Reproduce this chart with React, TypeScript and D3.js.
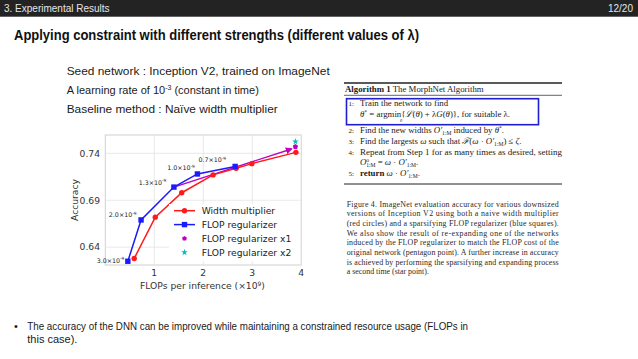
import * as d3 from 'd3'

// FLOPs (x10^9) and accuracy
const widthFlops = [0.59, 1.02, 1.56, 2.2, 2.67, 2.99, 3.89]
const widthAcc = [0.628, 0.672, 0.698, 0.717, 0.724, 0.729, 0.741]
const regFlops = [0.46, 0.73, 1.4, 1.88, 2.65]
const regAcc = [0.625, 0.669, 0.704, 0.718, 0.726]
const lambdaLabels = ['3.0', '2.0', '1.3', '1.0', '0.7']
const expandX1 = { flops: 3.88, acc: 0.747 }
const expandX2 = { flops: 3.88, acc: 0.7525 }
const arrowFrom = { flops: 1.4, acc: 0.704 }
const arrowTo = { flops: 3.8, acc: 0.7446 }
const xTicks = [1, 2, 3, 4]
const yTicks = [0.64, 0.69, 0.74]
const legendNames = ['Width multiplier', 'FLOP regularizer', 'FLOP regularizer x1', 'FLOP regularizer x2']

const captionLines = [
  'Figure 4. ImageNet evaluation accuracy for various downsized',
  'versions of Inception V2 using both a naive width multiplier',
  '(red circles) and a sparsifying FLOP regularizer (blue squares).',
  'We also show the result of re-expanding one of the networks',
  'induced by the FLOP regularizer to match the FLOP cost of the',
  'original network (pentagon point). A further increase in accuracy',
  'is achieved by performing the sparsifying and expanding process',
  'a second time (star point).',
]

const RED = '#ff1a1a'
const BLUE = '#1a1aff'
const PURPLE = '#bf00bf'
const CYAN = '#00bfbf'

const pentagon = (cx: number, cy: number, r: number) =>
  d3.range(5).map((i) => {
    const a = -Math.PI / 2 + (i * 2 * Math.PI) / 5
    return [cx + r * Math.cos(a), cy + r * Math.sin(a)].join(',')
  }).join(' ')

const Chart = () => {
  const x = d3.scaleLinear().domain([0, 4]).range([105.3, 301.3])
  const y = d3.scaleLinear().domain([0.621, 0.7595]).range([265, 135])
  const line = d3.line<[number, number]>().x((d) => x(d[0])).y((d) => y(d[1]))
  const widthPts = widthFlops.map((f, i) => [f, widthAcc[i]] as [number, number])
  const regPts = regFlops.map((f, i) => [f, regAcc[i]] as [number, number])
  const star = d3.symbol(d3.symbolStar, 14)()
  const labelOffsets = [[-3.5, 1.5], [-4.5, -3], [-7.5, -2.5], [-2.5, -3.5], [-9, -4.5]]
  const legendY = (i: number) => 210.7 + i * 13.9
  const font = 'DejaVu Sans'
  return (
    <g fontFamily={font}>
      <rect x={x(0)} y={y(0.7595)} width={x(4) - x(0)} height={y(0.621) - y(0.7595)} fill="#fff" stroke="#d0d0d0" strokeWidth={1} />
      {xTicks.map((t) => (
        <line key={'gx' + t} x1={x(t)} x2={x(t)} y1={y(0.621)} y2={y(0.7595)} stroke="#e3e3e3" strokeWidth={0.8} />
      ))}
      {yTicks.map((t) => (
        <line key={'gy' + t} x1={x(0)} x2={x(4)} y1={y(t)} y2={y(t)} stroke="#e3e3e3" strokeWidth={0.8} />
      ))}
      {xTicks.map((t) => (
        <text key={'tx' + t} x={x(t)} y={276} fontSize={9.2} textAnchor="middle" fill="#333">{t}</text>
      ))}
      {yTicks.map((t) => (
        <text key={'ty' + t} x={100} y={y(t) + 3.3} fontSize={9.2} textAnchor="end" fill="#333">{t.toFixed(2)}</text>
      ))}
      <text x={202.5} y={289} fontSize={9.2} textAnchor="middle" fill="#333">
        FLOPs per inference (×10<tspan fontSize={6} dy={-3.5}>9</tspan><tspan dy={3.5}>)</tspan>
      </text>
      <text transform="translate(78.3,200) rotate(-90)" fontSize={9.2} textAnchor="middle" fill="#333">Accuracy</text>

      <defs>
        <marker id="arrowP" viewBox="0 0 10 10" refX={8} refY={5} markerWidth={5} markerHeight={5} orient="auto">
          <path d="M0,0 L10,5 L0,10 z" fill={PURPLE} />
        </marker>
      </defs>
      <line x1={x(arrowFrom.flops)} y1={y(arrowFrom.acc)} x2={x(arrowTo.flops)} y2={y(arrowTo.acc)} stroke={PURPLE} strokeWidth={1.4} markerEnd="url(#arrowP)" />

      <path d={line(widthPts) ?? ''} fill="none" stroke={RED} strokeWidth={1.5} />
      {widthPts.map((p, i) => (
        <circle key={'w' + i} cx={x(p[0])} cy={y(p[1])} r={2.7} fill={RED} />
      ))}
      <path d={line(regPts) ?? ''} fill="none" stroke={BLUE} strokeWidth={1.5} />
      {regPts.map((p, i) => (
        <rect key={'r' + i} x={x(p[0]) - 2.7} y={y(p[1]) - 2.7} width={5.4} height={5.4} fill={BLUE} />
      ))}
      <polygon points={pentagon(x(expandX1.flops), y(expandX1.acc), 2.8)} fill={PURPLE} />
      <path d={star ?? ''} transform={`translate(${x(expandX2.flops)},${y(expandX2.acc)})`} fill={CYAN} />

      {regPts.map((p, i) => (
        <text key={'l' + i} x={x(p[0]) + labelOffsets[i][0]} y={y(p[1]) + labelOffsets[i][1]} fontSize={6.3} textAnchor="end" fill="#222">
          {lambdaLabels[i]}×10<tspan fontSize={4.4} dy={-2.3}>-9</tspan>
        </text>
      ))}

      <rect x={169} y={204} width={131} height={57} fill="#fff" />
      {legendNames.map((name, i) => {
        const ly = legendY(i)
        return (
          <g key={name}>
            {i === 0 && (
              <g>
                <line x1={174} x2={195} y1={ly} y2={ly} stroke={RED} strokeWidth={1.5} />
                <circle cx={184.5} cy={ly} r={2.7} fill={RED} />
              </g>
            )}
            {i === 1 && (
              <g>
                <line x1={174} x2={195} y1={ly} y2={ly} stroke={BLUE} strokeWidth={1.5} />
                <rect x={181.8} y={ly - 2.7} width={5.4} height={5.4} fill={BLUE} />
              </g>
            )}
            {i === 2 && <polygon points={pentagon(184.5, ly, 2.6)} fill={PURPLE} />}
            {i === 3 && <path d={star ?? ''} transform={`translate(184.5,${ly})`} fill={CYAN} />}
            <text x={201.7} y={ly + 3.3} fontSize={9.2} fill="#222">{name}</text>
          </g>
        )
      })}
    </g>
  )
}

const Algorithm = () => {
  const f = 'Liberation Serif'
  const fs = 8.8
  const sub = (s: string) => (
    <tspan fontSize={5.6} dy={2}>{s}</tspan>
  )
  return (
    <g fontFamily={f} fill="#1a1a1a" fontSize={fs}>
      <line x1={344} x2={562} y1={83} y2={83} stroke="#222" strokeWidth={1.3} />
      <text x={345} y={92}>
        <tspan fontWeight="bold">Algorithm 1</tspan> The MorphNet Algorithm
      </text>
      <line x1={344} x2={562} y1={95.3} y2={95.3} stroke="#222" strokeWidth={0.7} />
      <rect x={346.5} y={98.7} width={192} height={26} fill="none" stroke="#1f1fd0" strokeWidth={1.6} />
      <text x={348.5} y={105.7} fontSize={7}>1:</text>
      <text x={360} y={105.7}>Train the network to find</text>
      <text x={360} y={117}>
        <tspan fontStyle="italic">θ</tspan><tspan fontSize={5.6} dy={-3}>*</tspan>
        <tspan dy={3}>{' = argmin{'}</tspan><tspan fontStyle="italic">ℒ</tspan>(<tspan fontStyle="italic">θ</tspan>) + λ<tspan fontStyle="italic">G</tspan>(<tspan fontStyle="italic">θ</tspan>){'}, for suitable λ.'}
      </text>
      <text x={400} y={122.3} fontSize={4.5} fontStyle="italic">θ</text>
      <text x={348.5} y={133} fontSize={7}>2:</text>
      <text x={360} y={133}>
        Find the new widths <tspan fontStyle="italic">O′</tspan>{sub('1:M')}<tspan dy={-2}> induced by </tspan>
        <tspan fontStyle="italic">θ</tspan><tspan fontSize={5.6} dy={-3}>*</tspan><tspan dy={3}>.</tspan>
      </text>
      <text x={348.5} y={144} fontSize={7}>3:</text>
      <text x={360} y={144}>
        Find the largests <tspan fontStyle="italic">ω</tspan> such that <tspan fontStyle="italic">ℱ</tspan>(<tspan fontStyle="italic">ω</tspan> · <tspan fontStyle="italic">O′</tspan>{sub('1:M')}<tspan dy={-2}>) ≤ </tspan><tspan fontStyle="italic">ζ</tspan>.
      </text>
      <text x={348.5} y={155.3} fontSize={7}>4:</text>
      <text x={360} y={155.3} textLength={202} lengthAdjust="spacingAndGlyphs">Repeat from Step 1 for as many times as desired, setting</text>
      <text x={360} y={165.3}>
        <tspan fontStyle="italic">O</tspan><tspan fontSize={5.6} dy={-3}>o</tspan><tspan fontSize={5.6} dx={-3} dy={5}>1:M</tspan>
        <tspan dy={-2}> = </tspan><tspan fontStyle="italic">ω</tspan> · <tspan fontStyle="italic">O′</tspan>{sub('1:M')}<tspan dy={-2}>.</tspan>
      </text>
      <text x={348.5} y={176.3} fontSize={7}>5:</text>
      <text x={360} y={176.3}>
        <tspan fontWeight="bold">return</tspan> <tspan fontStyle="italic">ω</tspan> · <tspan fontStyle="italic">O′</tspan>{sub('1:M')}<tspan dy={-2}>.</tspan>
      </text>
      <line x1={344} x2={562} y1={184} y2={184} stroke="#222" strokeWidth={1} />
    </g>
  )
}

const App = () => {
  const sans = 'Liberation Sans'
  return (
    <svg width={638} height={359} style={{ position: 'absolute', left: 0, top: 0 }}>
      <rect width={638} height={359} fill="#fff" />
      <rect width={638} height={16.7} fill="#232323" />
      <text x={4} y={12.2} fontFamily={sans} fontSize={10} fill="#e6e6e6">3. Experimental Results</text>
      <text x={633} y={12.2} fontFamily={sans} fontSize={10} fill="#e6e6e6" textAnchor="end">12/20</text>
      <text x={14} y={39.5} fontFamily={sans} fontSize={14.5} fontWeight="bold" fill="#111" textLength={405} lengthAdjust="spacingAndGlyphs">
        Applying constraint with different strengths (different values of λ)
      </text>
      <g fontFamily={sans} fontSize={11} fill="#1a1a1a">
        <text x={66.7} y={75} textLength={263} lengthAdjust="spacingAndGlyphs">Seed network : Inception V2, trained on ImageNet</text>
        <text x={66.7} y={94}>
          A learning rate of 10<tspan fontSize={7} dy={-4}>-3</tspan><tspan dy={4}> (constant in time)</tspan>
        </text>
        <text x={66.7} y={113.3} textLength={211} lengthAdjust="spacingAndGlyphs">Baseline method : Naïve width multiplier</text>
      </g>
      <Chart />
      <Algorithm />
      <g fontFamily="Liberation Serif" fontSize={7.9} fill="#2a2a2a">
        {captionLines.map((l, i) => (
          <text
            key={i}
            x={346.7}
            y={206.5 + i * 9.7}
            textLength={i < captionLines.length - 1 ? 212 : undefined}
            lengthAdjust="spacing"
          >
            {l}
          </text>
        ))}
      </g>
      <g fontFamily={sans} fontSize={11} fill="#1a1a1a">
        <text x={14} y={330}>•</text>
        <text x={27.3} y={330} textLength={440.7} lengthAdjust="spacingAndGlyphs">
          The accuracy of the DNN can be improved while maintaining a constrained resource usage (FLOPs in
        </text>
        <text x={27.3} y={343}>this case).</text>
      </g>
    </svg>
  )
}

export default App
